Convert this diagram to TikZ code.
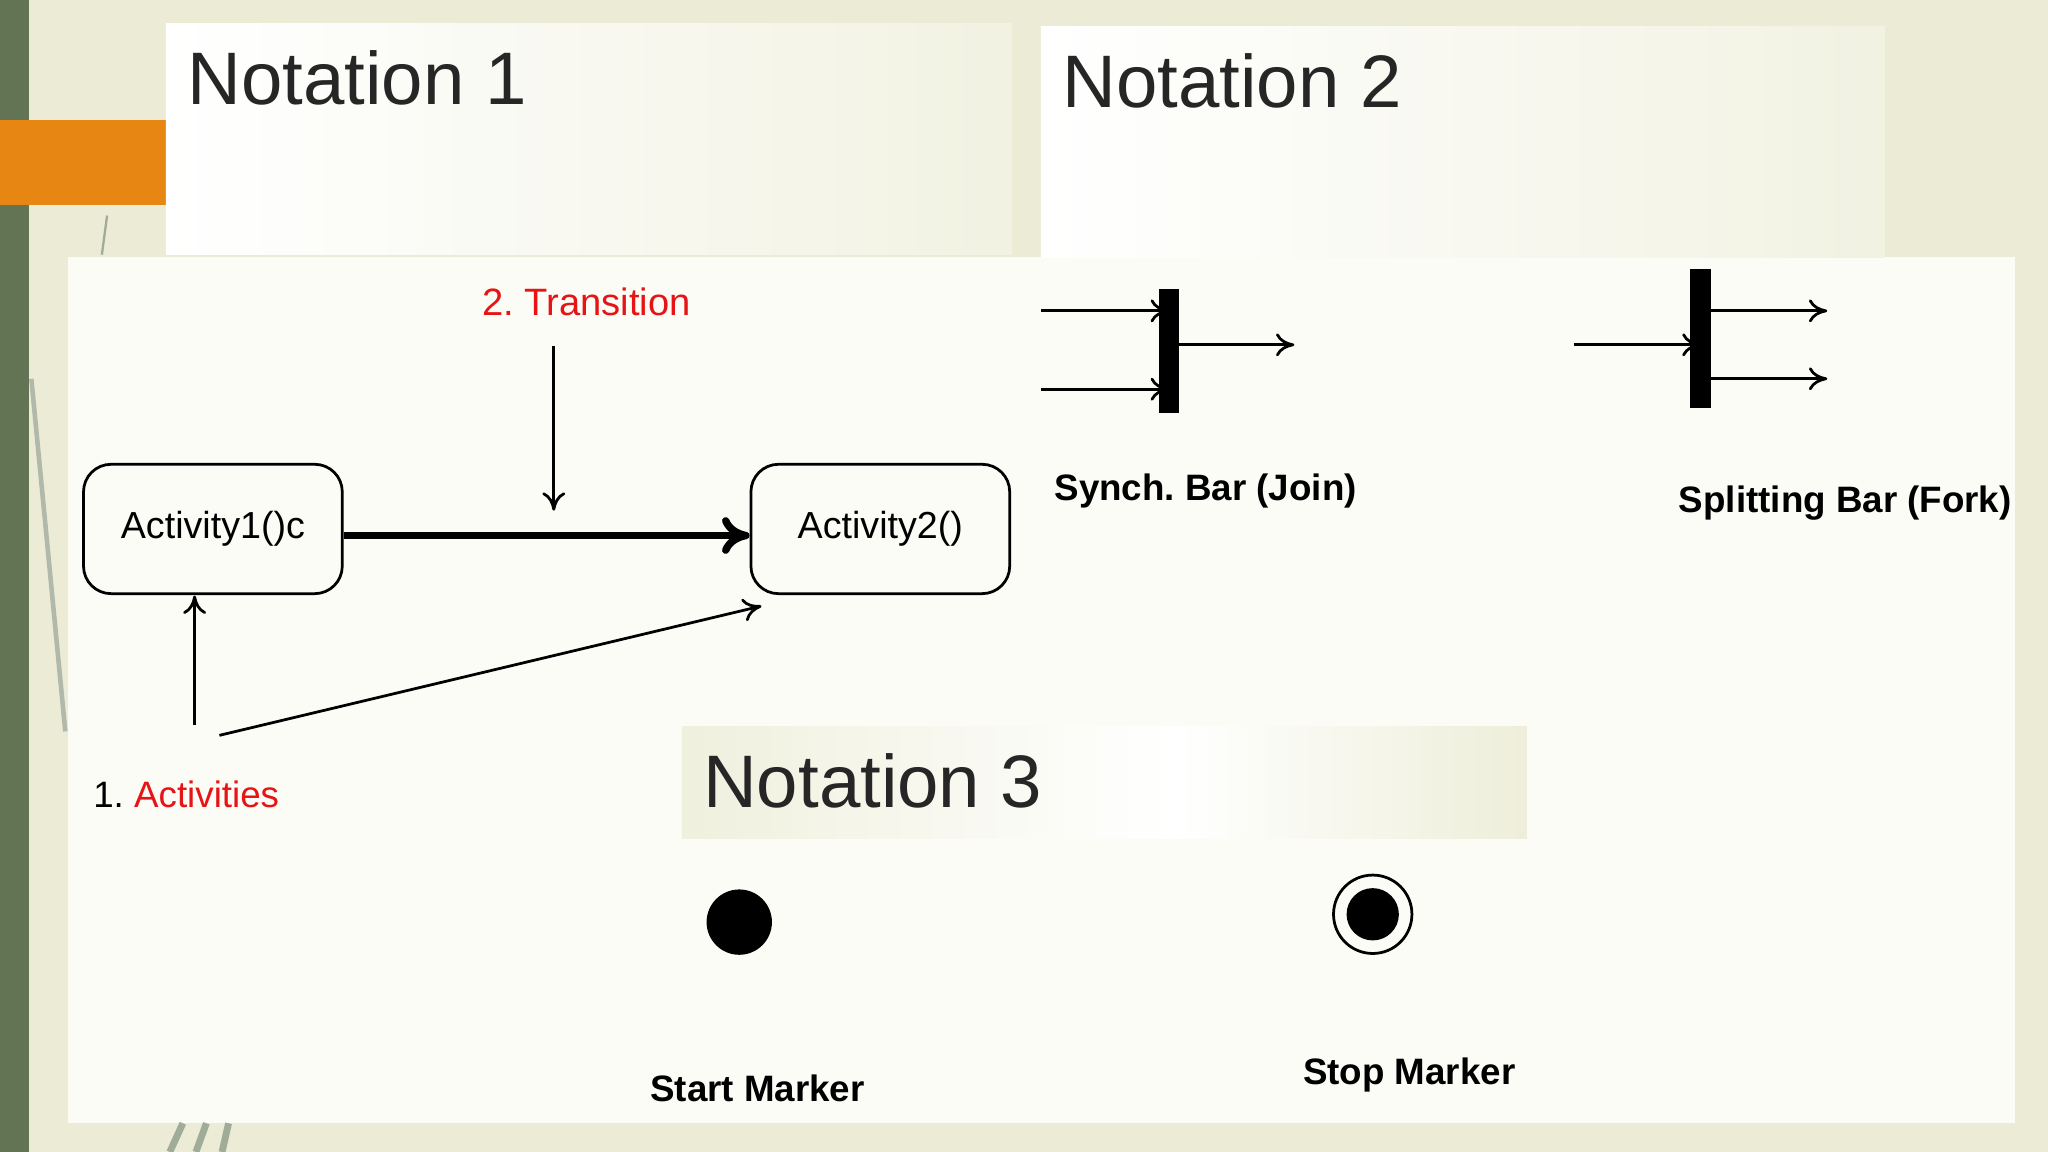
\documentclass[tikz,border=0pt]{standalone}
\usepackage{fontspec}
\setmainfont{Liberation Sans}
\frenchspacing
\usetikzlibrary{arrows.meta}
\definecolor{bg}{RGB}{236,236,214}
\definecolor{bar}{RGB}{98,116,84}
\definecolor{org}{RGB}{232,134,20}
\definecolor{pan}{RGB}{252,252,246}
\definecolor{redt}{RGB}{230,20,20}
\tikzset{
  act/.style={draw,rounded corners=6pt,minimum width=1.98cm,minimum height=0.99cm,font=\fontsize{8.2}{10}\selectfont,line width=0.6pt},
  title/.style={anchor=west,font=\fontsize{16.2}{20}\selectfont,text=black!85},
  lbl/.style={font=\bfseries\fontsize{8}{10}\selectfont},
  arr/.style={-{To[length=4pt,width=5pt]},line width=0.6pt},
  sbar/.style={line width=4.5pt}
}
\begin{document}
\begin{tikzpicture}[x=0.01cm,y=-0.01cm]
\useasboundingbox (0,0) rectangle (1568,882);
\fill[bg] (0,0) rectangle (1568,882);
\fill[bar] (0,0) rectangle (22,882);
\fill[org] (0,92) rectangle (127,157);
\fill[pan] (52,197) rectangle (1543,860);
\shade[left color=white,right color=bg!70] (127,18) rectangle (775,195);
\shade[left color=white,right color=bg!70] (797,20) rectangle (1443,197);
\shade[left color=bg!80,right color=white] (522,556) rectangle (900,642);
\shade[left color=white,right color=bg!90] (900,556) rectangle (1169,642);
\draw[bar!60,line width=0.5pt] (78,195) -- (82,165);
\draw[bar!50,line width=1pt] (24,290) -- (50,560);
\draw[bar!60,line width=1.5pt] (130,882) -- (140,860) (150,882) -- (158,860) (170,882) -- (175,860);
\node[title] (t1) at (131,60) {Notation 1};
\node[title] (t2) at (801,62) {Notation 2};
\node[title] (t3) at (526,598) {Notation 3};
% Notation 1
\node[act] (a1) at (163,405) {Activity1()c};
\node[act] (a2) at (674,405) {Activity2()};
\draw[-{To[length=6pt,width=8pt]},line width=1.6pt] ([yshift=-0.05cm]a1.east) -- ([yshift=-0.05cm]a2.west);
\node[text=redt,font=\fontsize{8.3}{10}\selectfont] (tr) at (449,231) {2. Transition};
\coordinate (trs) at (424,265); \coordinate (tre) at (424,391);
\draw[arr] (trs) -- (tre);
\node[anchor=west,font=\fontsize{8}{10}\selectfont] (ac) at (59,608) {1. \textcolor{redt}{Activities}};
\coordinate (p1) at (149,555); \coordinate (p2) at (149,456);
\draw[arr] (p1) -- (p2);
\coordinate (q1) at (168,563); \coordinate (q2) at (583,464);
\draw[arr] (q1) -- (q2);
% Join
\coordinate (jb1) at (895,221); \coordinate (jb2) at (895,316);
\draw[sbar] (jb1) -- (jb2);
\coordinate (ja) at (797,238); \coordinate (jae) at (895,238);
\coordinate (jb) at (797,298); \coordinate (jbe) at (895,298);
\coordinate (jo) at (895,264); \coordinate (joe) at (991,264);
\draw[arr] (ja) -- (jae); \draw[arr] (jb) -- (jbe); \draw[arr] (jo) -- (joe);
\node[lbl,anchor=west] (jl) at (795,376) {Synch. Bar (Join)};
% Fork
\coordinate (fb1) at (1302,206); \coordinate (fb2) at (1302,312);
\draw[sbar] (fb1) -- (fb2);
\coordinate (fi) at (1205,264); \coordinate (fie) at (1302,264);
\coordinate (fa) at (1302,238); \coordinate (fae) at (1399,238);
\coordinate (fc) at (1302,290); \coordinate (fce) at (1399,290);
\draw[arr] (fi) -- (fie); \draw[arr] (fa) -- (fae); \draw[arr] (fc) -- (fce);
\node[lbl,anchor=west] (fl) at (1273,385) {Splitting Bar (Fork)};
% Notation 3
\node[circle,fill=black,minimum size=0.5cm,inner sep=0pt] (st) at (566,706) {};
\node[circle,draw,line width=0.6pt,minimum size=0.6cm,inner sep=0pt] (sp) at (1051,700) {};
\node[circle,fill=black,minimum size=0.4cm,inner sep=0pt] (spi) at (1051,700) {};
\node[lbl] (sl) at (580,833) {Start Marker};
\node[lbl] (pl) at (1079,823) {Stop Marker};
\end{tikzpicture}
\end{document}
